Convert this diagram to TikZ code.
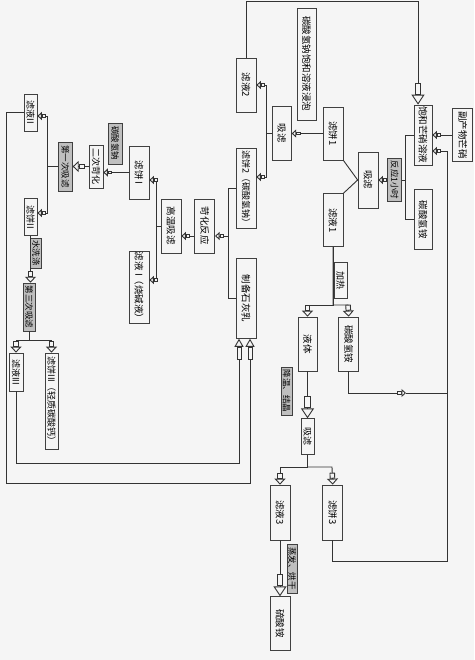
\documentclass[tikz,border=0pt]{standalone}
\usepackage{fontspec}
\setmainfont{Noto Sans CJK SC}
\usepackage{graphicx}
\usetikzlibrary{arrows.meta,positioning}
\definecolor{paper}{gray}{0.96}
\newcommand{\vtxt}[1]{\rotatebox{-90}{#1}}

\begin{document}
\begin{tikzpicture}[
    x=1pt, y=-1pt,
    proc/.style={draw=black!75, line width=0.7pt, inner sep=0pt, minimum width=20pt, font=\fontsize{9.5}{10}\selectfont},
    slim/.style={proc, minimum width=13pt, font=\fontsize{9}{9}\selectfont},
    tag/.style={draw=black!75, line width=0.5pt, fill=gray!50, inner sep=0pt, font=\fontsize{8.5}{9}\selectfont},
    wire/.style={draw=black!80, line width=0.9pt},
    sarr/.style={wire, -{Rectangle[length=4.5pt, width=3.5pt, fill=paper, sep=0pt] Triangle[length=4.5pt, width=8pt, fill=paper]}},
    marr/.style={wire, -{Rectangle[length=6pt, width=5.5pt, fill=paper, sep=0pt] Triangle[length=6pt, width=11pt, fill=paper]}},
    barr/.style={wire, -{Rectangle[length=12pt, width=6.5pt, fill=paper, sep=0pt] Triangle[length=10pt, width=13pt, fill=paper]}},
    narr/.style={wire, -{Rectangle[length=13pt, width=5pt, fill=paper, sep=0pt] Triangle[length=8pt, width=9pt, fill=paper]}},
]
\fill[paper] (0,0) rectangle (474,660);
\useasboundingbox (0,0) rectangle (474,660);
% Left branch
\node[slim, minimum height=37pt] (liqII) at (30.5,112.5) {\vtxt{滤液II}};
\node[slim, minimum height=37pt, below=67pt of liqII] (cakeII) {\vtxt{滤饼II}};
\node[slim, minimum width=14pt, minimum height=43pt] (caus2) at (96,166.5) {\vtxt{二次苛化}};
\node[tag, minimum width=14pt, minimum height=49pt, left=16pt of caus2] (suc1) {\vtxt{第一次吸滤}};
\node[tag, minimum width=14pt, minimum height=41pt] (soda) at (115,143.5) {\vtxt{碳酸氢钠}};
\node[proc, minimum height=53pt] (cakeI) at (139,172.5) {\vtxt{滤饼 I}};
\node[proc, minimum height=72pt, below=52pt of cakeI] (liqI) {\vtxt{滤液 I（烧碱液）}};
\node[proc, minimum height=54pt] (hotf) at (171,226) {\vtxt{高温吸滤}};
\node[proc, minimum height=54pt, right=13pt of hotf] (caus) {\vtxt{苛化反应}};
\node[tag, minimum width=11pt, minimum height=30pt] (wash) at (36,253) {\vtxt{水洗涤}};
\node[tag, minimum width=12pt, minimum height=48pt] (suc5) at (29,307) {\vtxt{第三次吸滤}};
\node[slim, minimum width=14pt, minimum height=38pt] (liqIII) at (16,372) {\vtxt{滤液III}};
\node[slim, minimum height=96pt] (cakeIII) at (51.5,401) {\vtxt{滤饼III（轻质碳酸钙）}};
% Middle column
\node[proc, minimum height=54pt] (liq2) at (246,85) {\vtxt{滤液2}};
\node[proc, minimum height=80pt, below=36pt of liq2, font=\fontsize{9}{9}\selectfont] (cake2) {\vtxt{滤饼2（碳酸氢钠）}};
\node[proc, minimum height=80pt, below=29pt of cake2] (lime) {\vtxt{制备石灰乳}};
\node[proc, minimum width=19pt, minimum height=112pt] (soak) at (306.5,64) {\vtxt{碳酸氢钠饱和溶液浸泡}};
\node[proc, minimum height=53pt] (cake1) at (333,133.5) {\vtxt{滤饼1}};
\node[proc, minimum height=53pt, below=33pt of cake1] (liq1) {\vtxt{滤液1}};
\node[proc, minimum width=19pt, minimum height=54pt, left=31pt of cake1] (suc2) {\vtxt{吸滤}};
% Right branch
\node[proc, minimum height=56pt] (suc3) at (368,180) {\vtxt{吸滤}};
\node[tag, minimum width=14pt, minimum height=43pt, right=9pt of suc3] (react) {\vtxt{反应1小时}};
\node[proc, minimum width=18pt, minimum height=60pt] (brine) at (423,135) {\vtxt{饱和芒硝溶液}};
\node[proc, minimum width=18pt, minimum height=60pt, below=24pt of brine] (bicarb) {\vtxt{碳酸氢铵}};
\node[proc, minimum height=53pt, right=20pt of brine] (byprod) {\vtxt{副产物芒硝}};
% Lower branch
\node[slim, minimum height=36pt] (heat) at (340.5,280) {\vtxt{加热}};
\node[proc, minimum width=19pt, minimum height=54pt] (fluid) at (307.5,344) {\vtxt{液体}};
\node[proc, minimum height=54pt, right=21pt of fluid] (bicarb2) {\vtxt{碳酸氢铵}};
\node[tag, minimum width=11pt, minimum height=48pt] (cool) at (286.5,391) {\vtxt{降温、结晶}};
\node[slim, minimum height=36pt, below=47pt of fluid] (suc4) {\vtxt{吸滤}};
\node[proc, minimum height=55pt] (liq3) at (280,512.5) {\vtxt{滤液3}};
\node[proc, minimum height=55pt, right=32pt of liq3] (cake3) {\vtxt{滤饼3}};
\node[tag, minimum width=10pt, minimum height=49pt] (evap) at (292,568.5) {\vtxt{蒸发、烘干}};
\node[proc, minimum height=54pt, below=56pt of liq3] (amsul) {\vtxt{硫酸铵}};
% Junctions
\coordinate (j1) at (47,116);
\coordinate (j2) at (47,213);
\coordinate (j3) at (156,180);
\coordinate (j4) at (156,280);
\coordinate (j5) at (228,236);
\coordinate (j6) at (266,85);
\coordinate (j7) at (266,177);
\coordinate (j8) at (418,1.5);
\coordinate (j9) at (405,180);
\coordinate (j10) at (307.5,305);
\coordinate (j11) at (348,305);
\coordinate (j12) at (406,393);
\coordinate (j13) at (447,393);
\coordinate (j14) at (447,561);
\coordinate (j15) at (447,151);
\coordinate (j16) at (280,467);
\coordinate (j17) at (332,467);
\coordinate (j18) at (16,340);
\coordinate (j19) at (51.5,340);
\coordinate (j20) at (6,483);
\coordinate (j21) at (250,483);
\coordinate (j22) at (239,463);
% Causticizing and first filtration
\draw[sarr] (suc1.west) -| (j1) -- (j1 -| liqII.east);
\draw[sarr] (suc1.west) -| (j2) -- (j2 -| cakeII.east);
\draw[marr] (caus2.west) -- (suc1.east);
\draw[sarr] (cakeI.west) -- (cakeI.west -| caus2.east);
\draw[sarr] (hotf.west) -| (j3) -- (j3 -| cakeI.east);
\draw[sarr] (hotf.west) -| (j4) -- (j4 -| liqI.east);
\draw[sarr] (caus.west |- j5) -- (hotf.east |- j5);
\draw[wire] (cake2.west) -| (j5);
\draw[wire] (lime.west) -| (j5);
\draw[sarr] (j5) -- (j5 -| caus.east);
% Bicarbonate filtration
\draw[sarr] (suc2.west) -| (j6) -- (j6 -| liq2.east);
\draw[sarr] (suc2.west) -| (j7) -- (j7 -| cake2.east);
\draw[sarr] (cake1.west) -- (suc2.east);
\draw[barr] (liq2.north) |- (j8) -- (j8 |- brine.north);
% Reaction
\draw[wire] (brine.west) -| (j9);
\draw[wire] (bicarb.west) -| (j9);
\draw[wire] (react.east) -- (j9);
\draw[sarr] (react.west) -- (suc3.east);
\draw[wire] (suc3.west) -- (cake1.south east);
\draw[wire] (suc3.west) -- (liq1.north east);
\draw[sarr] (byprod.west) -- (brine.east);
% Heating and crystallisation
\draw[marr] (liq1.south) |- (j10) -- (fluid.north);
\draw[marr] (liq1.south) |- (j11) -- (bicarb2.north);
\draw[sarr] (bicarb2.south) |- (j12);
\draw[wire] (j12) -- (j13);
\draw[barr] (fluid.south) -- (suc4.north);
\draw[marr] (suc4.south) |- (j16) -- (liq3.north);
\draw[marr] (suc4.south) |- (j17) -- (cake3.north);
\draw[barr] (liq3.south) -- (amsul.north);
\draw[sarr] (cake3.south) |- (j14) -- (j15) -- (j15 -| brine.east);
% Third filtration
\draw[marr] (cakeII.south) -- (cakeII.south |- suc5.north);
\draw[marr] (suc5.south) |- (j18) -- (liqIII.north);
\draw[marr] (suc5.south) |- (j19) -- (cakeIII.north);
% Back to the lime milk
\draw[narr] (liqII.west) -| (j20) -- (j21) -- (j21 |- lime.south);
\draw[narr] (liqIII.south) |- (j22) -- (lime.south -| j22);
\end{tikzpicture}
\end{document}
